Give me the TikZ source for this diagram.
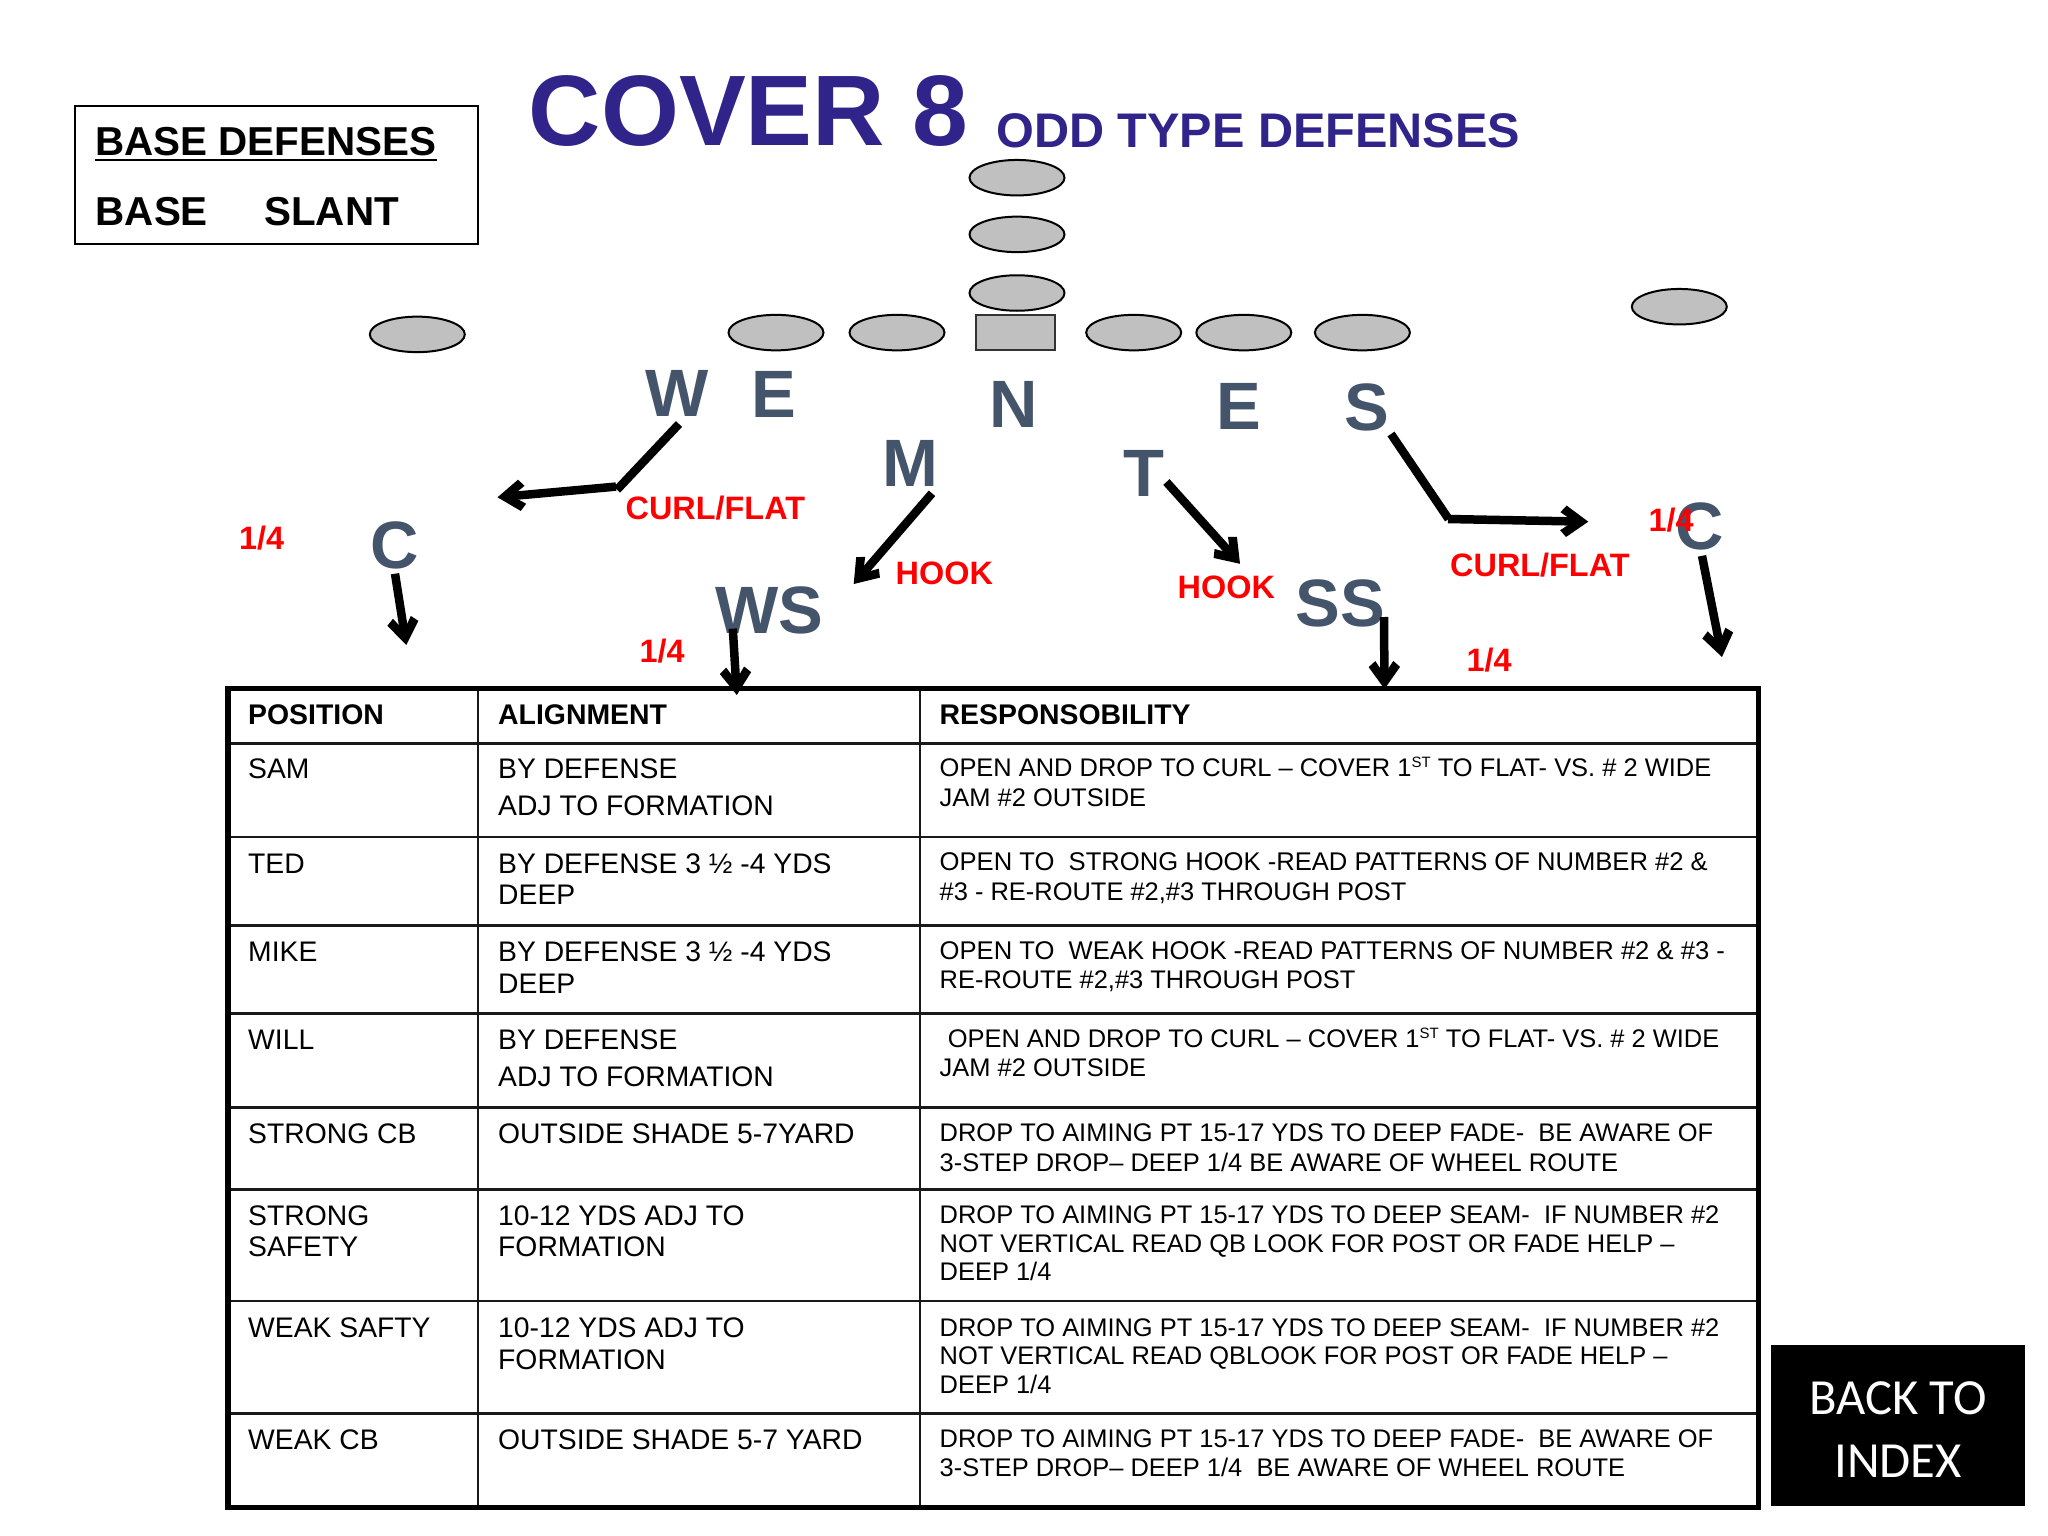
\documentclass[tikz,border=0pt]{standalone}
\usepackage{fontspec}
\setmainfont{Liberation Sans}
\newfontfamily\carl{Carlito}
\usetikzlibrary{arrows.meta,shapes.geometric}
\definecolor{titleblue}{HTML}{30248A}
\definecolor{slateletter}{HTML}{44546A}
\definecolor{playergray}{HTML}{C0C0C0}
\newcommand{\fsz}[1]{\fontsize{#1}{#1}\selectfont}
\newcommand{\supst}{\raisebox{9pt}{\fsz{15}ST}}
\pgfdeclarearrow{
  name=RouteHead,
  setup code={
    \pgfarrowssettipend{0pt}
    \pgfarrowssetlineend{-15pt}
    \pgfarrowssetvisualbackend{-21pt}
    \pgfarrowssetbackend{-28pt}
    \pgfarrowshullpoint{0pt}{0pt}
    \pgfarrowshullpoint{-28pt}{15.7pt}
    \pgfarrowshullpoint{-28pt}{-15.7pt}
  },
  drawing code={
    \pgfpathmoveto{\pgfqpoint{0pt}{0pt}}
    \pgfpathlineto{\pgfqpoint{-22pt}{15.7pt}}
    \pgfpathlineto{\pgfqpoint{-28pt}{9pt}}
    \pgfpathlineto{\pgfqpoint{-19pt}{3pt}}
    \pgfpathlineto{\pgfqpoint{-19pt}{-3pt}}
    \pgfpathlineto{\pgfqpoint{-28pt}{-9pt}}
    \pgfpathlineto{\pgfqpoint{-22pt}{-15.7pt}}
    \pgfpathclose
    \pgfusepathqfill
  }
}
\tikzset{
  x=1pt,y=-1pt,
  player/.style={ellipse,draw=black,line width=2pt,fill=playergray,minimum width=95pt,minimum height=35.5pt,inner sep=0pt},
  center/.style={rectangle,draw=black!80,line width=2pt,fill=playergray,minimum width=79.5pt,minimum height=35.5pt,inner sep=0pt},
  letter/.style={anchor=base,inner sep=0pt,text=slateletter,font=\fsz{67}\bfseries},
  redlabel/.style={anchor=base west,inner sep=0pt,text=red,font=\fsz{32.4}\bfseries},
  basetext/.style={anchor=base west,inner sep=0pt,font=\fsz{40.4}\bfseries},
  hd/.style={anchor=base west,inner sep=0pt,font=\fsz{28.4}\bfseries},
  cella/.style={anchor=base west,inner sep=0pt,font=\fsz{28.3}},
  cellb/.style={anchor=base west,inner sep=0pt,font=\fsz{25.45}},
  cellc/.style={anchor=base west,inner sep=0pt,font=\fsz{25.6}},
  run/.style={line width=8.5pt,black},
  runarrow/.style={line width=8.5pt,black,-{RouteHead}},
  rowline/.style={line width=2.6pt,black!90},
}
\begin{document}
\begin{tikzpicture}
\useasboundingbox (0,0) rectangle (2048,1536);
% legend box
\node[rectangle,draw=black,line width=2pt,minimum width=403pt,minimum height=138pt,inner sep=0pt] (legend) at (276.6,174.8) {};
\node[basetext] (basedef) at (95,156) {BASE DEFENSES};
\draw[line width=2.8pt] ([yshift=-4pt]basedef.base west) -- ([yshift=-4pt]basedef.base east);
\node[basetext] (base) at (95.5,225) {BASE};
\node[basetext] (slant) at (264,225) {SLANT};
% title
\node[anchor=base west,inner sep=0pt,text=titleblue,font=\fsz{100.2}\bfseries] (title) at (528.5,146) {COVER 8};
\node[anchor=base west,inner sep=0pt,text=titleblue,font=\fsz{48.6}\bfseries] (subtitle) at (996,147) {ODD TYPE DEFENSES};
% offense
\node[player] (wr1) at (417.3,334.4) {};
\node[player] (lt) at (776,332.6) {};
\node[player] (lg) at (897,332.6) {};
\node[center] (ctr) at (1015.6,332.6) {};
\node[player] (rg) at (1133.7,332.6) {};
\node[player] (rt) at (1243.8,332.6) {};
\node[player] (te) at (1362.4,332.6) {};
\node[player] (wr2) at (1679.3,306.7) {};
\node[player] (qb) at (1017,293) {};
\node[player] (fb) at (1017,234.4) {};
\node[player] (tb) at (1017,177.7) {};
% defenders
\node[letter] (W) at (677,416) {W};
\node[letter] (E1) at (774,417.3) {E};
\node[letter] (N) at (1014,427.2) {N};
\node[letter] (E2) at (1238.5,429.5) {E};
\node[letter] (S) at (1366.5,430.5) {S};
\node[letter] (M) at (910.5,486.2) {M};
\node[letter] (T) at (1143.5,496) {T};
\node[letter] (CL) at (394.5,568) {C};
\node[letter] (WS) at (769,633.5) {WS};
\node[letter] (SS) at (1340.5,626.5) {SS};
\node[letter] (CR) at (1700,549.5) {C};
% zone labels
\node[redlabel] (l14a) at (239,549) {1/4};
\node[redlabel] (lcf1) at (625.5,519) {CURL/FLAT};
\node[redlabel] (lhk1) at (895.5,584.8) {HOOK};
\node[redlabel] (l14b) at (639.5,662) {1/4};
\node[redlabel] (lhk2) at (1177.5,598) {HOOK};
\node[redlabel] (lcf2) at (1450,576.3) {CURL/FLAT};
\node[redlabel] (l14c) at (1648.5,531) {1/4};
\node[redlabel] (l14d) at (1466.5,671) {1/4};
% table grid
\coordinate (tl) at (228,688.5);
\coordinate (br) at (1758.7,1507.5);
\foreach \yy in {743.3,837,925.6,1013.5,1107.4,1189.3,1301,1413.6}
  \draw[rowline] (228,\yy) -- (1758.7,\yy);
\foreach \xx in {478,920}
  \draw[rowline] (\xx,688.5) -- (\xx,1507.5);
\draw[line width=5.5pt,black] (tl) rectangle (br);
% header
\node[hd] (h1) at (248,724.8) {POSITION};
\node[hd] (h2) at (498,724.8) {ALIGNMENT};
\node[hd] (h3) at (939.5,724.8) {RESPONSOBILITY};
% column 1
\node[cella] (p1) at (248,778.3) {SAM};
\node[cella] (p2) at (248,873.2) {TED};
\node[cella] (p3) at (248,961.2) {MIKE};
\node[cella] (p4) at (248,1049) {WILL};
\node[cella] (p5) at (248,1143) {STRONG CB};
\node[cella] (p6a) at (248,1225.3) {STRONG};
\node[cella] (p6b) at (248,1256) {SAFETY};
\node[cella] (p7) at (248,1337.2) {WEAK SAFTY};
\node[cella] (p8) at (248,1449.7) {WEAK CB};
% column 2
\node[cella] (a1a) at (498,778.3) {BY DEFENSE};
\node[cella] (a1b) at (498,815.5) {ADJ TO FORMATION};
\node[cella] (a2a) at (498,873.2) {BY DEFENSE 3 ½ -4 YDS};
\node[cella] (a2b) at (498,904.5) {DEEP};
\node[cella] (a3a) at (498,961.2) {BY DEFENSE 3 ½ -4 YDS};
\node[cella] (a3b) at (498,993) {DEEP};
\node[cella] (a4a) at (498,1049) {BY DEFENSE};
\node[cella] (a4b) at (498,1086.2) {ADJ TO FORMATION};
\node[cella] (a5) at (498,1143) {OUTSIDE SHADE 5-7YARD};
\node[cella] (a6a) at (498,1225.3) {10-12 YDS ADJ TO};
\node[cella] (a6b) at (498,1256) {FORMATION};
\node[cella] (a7a) at (498,1337.2) {10-12 YDS ADJ TO};
\node[cella] (a7b) at (498,1369) {FORMATION};
\node[cella] (a8) at (498,1449.7) {OUTSIDE SHADE 5-7 YARD};
% column 3
\node[cellb] (r1a) at (939.5,776.7) {OPEN AND DROP TO CURL – COVER 1\supst{} TO FLAT- VS. \# 2 WIDE};
\node[cellb] (r1b) at (939.5,806) {JAM \#2 OUTSIDE};
\node[cellc] (r2a) at (939.5,870.5) {OPEN TO\ \ STRONG HOOK -READ PATTERNS OF NUMBER \#2 \&};
\node[cellb] (r2b) at (939.5,900) {\#3 - RE-ROUTE \#2,\#3 THROUGH POST};
\node[cellc] (r3a) at (939.5,959) {OPEN TO\ \ WEAK HOOK -READ PATTERNS OF NUMBER \#2 \& \#3 -};
\node[cellb] (r3b) at (939.5,988.4) {RE-ROUTE \#2,\#3 THROUGH POST};
\node[cellb] (r4a) at (947.6,1047.4) {OPEN AND DROP TO CURL – COVER 1\supst{} TO FLAT- VS. \# 2 WIDE};
\node[cellb] (r4b) at (939.5,1076.8) {JAM \#2 OUTSIDE};
\node[cellb] (r5a) at (939.5,1141.5) {DROP TO AIMING PT 15-17 YDS TO DEEP FADE-\ \ BE AWARE OF};
\node[cellb] (r5b) at (939.5,1171.3) {3-STEP DROP– DEEP 1/4 BE AWARE OF WHEEL ROUTE};
\node[cellb] (r6a) at (939.5,1223.7) {DROP TO AIMING PT 15-17 YDS TO DEEP SEAM-\ \ IF NUMBER \#2};
\node[cellb] (r6b) at (939.5,1252) {NOT VERTICAL READ QB LOOK FOR POST OR FADE HELP –};
\node[cellb] (r6c) at (939.5,1280.4) {DEEP 1/4};
\node[cellb] (r7a) at (939.5,1336) {DROP TO AIMING PT 15-17 YDS TO DEEP SEAM-\ \ IF NUMBER \#2};
\node[cellb] (r7b) at (939.5,1364.5) {NOT VERTICAL READ QBLOOK FOR POST OR FADE HELP –};
\node[cellb] (r7c) at (939.5,1393) {DEEP 1/4};
\node[cellb] (r8a) at (939.5,1447.5) {DROP TO AIMING PT 15-17 YDS TO DEEP FADE-\ \ BE AWARE OF};
\node[cellb] (r8b) at (939.5,1476.4) {3-STEP DROP– DEEP 1/4\ \ BE AWARE OF WHEEL ROUTE};
% routes
\coordinate (w0) at (679,424); \coordinate (w1) at (617,489.7); \coordinate (w2) at (616,486.6); \coordinate (w3) at (497.5,497.3);
\draw[run] (w0) -- (w1);
\draw[runarrow] (w2) -- (w3);
\coordinate (cl0) at (395,573.7); \coordinate (cl1) at (406.3,645);
\draw[runarrow] (cl0) -- (cl1);
\coordinate (m0) at (932,493.3); \coordinate (m1) at (853.7,584);
\draw[runarrow] (m0) -- (m1);
\coordinate (ws0) at (732.8,628.6); \coordinate (ws1) at (736.8,695);
\draw[runarrow] (ws0) -- (ws1);
\coordinate (t0) at (1166.4,482); \coordinate (t1) at (1240,563.8);
\draw[runarrow] (t0) -- (t1);
\coordinate (s0) at (1391,434); \coordinate (s1) at (1448.6,519); \coordinate (s2) at (1448,519); \coordinate (s3) at (1588.3,521.7);
\draw[run] (s0) -- (s1);
\draw[runarrow] (s2) -- (s3);
\coordinate (ss0) at (1384,617); \coordinate (ss1) at (1384.5,689);
\draw[runarrow] (ss0) -- (ss1);
\coordinate (cr0) at (1702,555.8); \coordinate (cr1) at (1722,657);
\draw[runarrow] (cr0) -- (cr1);
% back button
\node[rectangle,fill=black,minimum width=254.3pt,minimum height=161pt,inner sep=0pt] (back) at (1897.9,1425.5) {};
\node[anchor=base,inner sep=0pt,text=white,font=\carl\fsz{50.6}] (back1) at (1898,1414) {BACK TO};
\node[anchor=base,inner sep=0pt,text=white,font=\carl\fsz{50.6}] (back2) at (1898,1477) {INDEX};
\end{tikzpicture}
\end{document}
